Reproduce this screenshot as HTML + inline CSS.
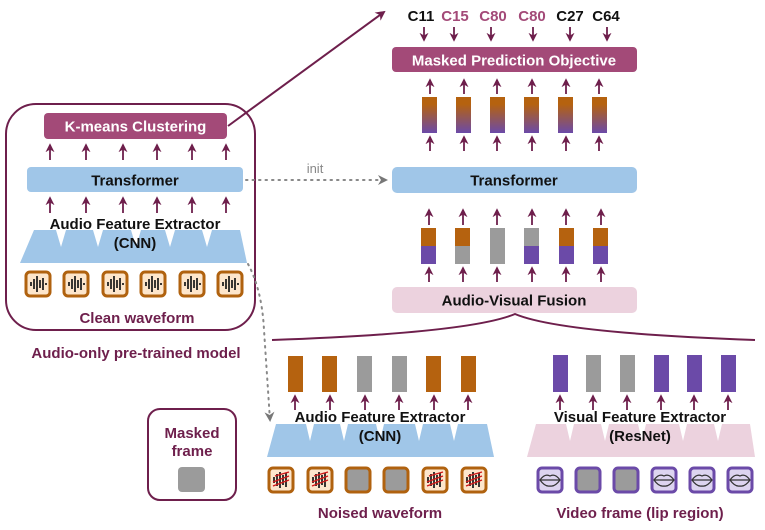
<!DOCTYPE html>
<html><head><meta charset="utf-8"><style>
body{margin:0;background:#fff}
svg{display:block;font-family:"Liberation Sans","DejaVu Sans",sans-serif;font-weight:bold}
</style></head><body>
<svg width="765" height="530" viewBox="0 0 765 530" xmlns="http://www.w3.org/2000/svg">
<defs>
<marker id="ah" viewBox="0 0 10 10" refX="8" refY="5" markerWidth="5" markerHeight="5" orient="auto"><path d="M0,0 L10,5 L0,10 L3,5z" fill="#6e1f4c"/></marker>
<marker id="ag" viewBox="0 0 10 10" refX="8" refY="5" markerWidth="5" markerHeight="5" orient="auto"><path d="M0,0 L10,5 L0,10 L3,5z" fill="#777"/></marker>
<linearGradient id="gr" x1="0" y1="0" x2="0" y2="1"><stop offset="0.2" stop-color="#b5620f"/><stop offset="1" stop-color="#6b4aa8"/></linearGradient>
<g id="wav"><rect x="-12" y="-12" width="24" height="24" rx="4" fill="#fde6cc" stroke="#b0620f" stroke-width="3"/><path d="M-7,-2v4M-4,-5v10M-1,-8v16M2,-4v8M5,-6v12M8,-1v2" stroke="#222" stroke-width="1.8"/></g>
<g id="nwav"><rect x="-12" y="-12" width="24" height="24" rx="4" fill="#fde6cc" stroke="#b0620f" stroke-width="3"/><path d="M-7,-3v6M-4,-6v12M-1,-8v16M2,-5v10M5,-7v14" stroke="#222" stroke-width="1.8"/><path d="M-8,2L8,-4M-8,6L8,0M-6,-4L8,-8" stroke="#d01818" stroke-width="1.4"/></g>
<g id="gwav"><rect x="-12" y="-12" width="24" height="24" rx="4" fill="#9b9b9b" stroke="#b0620f" stroke-width="3"/></g>
<g id="lip"><rect x="-12" y="-12" width="24" height="24" rx="4" fill="#ddd4f0" stroke="#6b4aa8" stroke-width="3"/><path d="M-10,0 Q-5,-7 0,-4 Q5,-7 10,0 Q5,7 0,6 Q-5,7 -10,0z M-10,0 H10" fill="none" stroke="#333" stroke-width="1.2"/></g>
<g id="glip"><rect x="-12" y="-12" width="24" height="24" rx="4" fill="#9b9b9b" stroke="#6b4aa8" stroke-width="3"/></g>
</defs>

<!-- Left box -->
<rect x="6" y="104" width="249" height="226" rx="30" fill="none" stroke="#6e1f4c" stroke-width="2"/>
<rect x="44" y="113" width="183" height="26" rx="4" fill="#a34a78"/>
<text x="135.5" y="131.5" font-size="15" fill="#fff" text-anchor="middle">K-means Clustering</text>
<g stroke="#6e1f4c" stroke-width="1.8" marker-end="url(#ah)">
<line x1="50" y1="160" x2="50" y2="145"/><line x1="86" y1="160" x2="86" y2="145"/><line x1="123" y1="160" x2="123" y2="145"/><line x1="157" y1="160" x2="157" y2="145"/><line x1="192" y1="160" x2="192" y2="145"/><line x1="226" y1="160" x2="226" y2="145"/>
<line x1="50" y1="213" x2="50" y2="198"/><line x1="86" y1="213" x2="86" y2="198"/><line x1="123" y1="213" x2="123" y2="198"/><line x1="157" y1="213" x2="157" y2="198"/><line x1="192" y1="213" x2="192" y2="198"/><line x1="226" y1="213" x2="226" y2="198"/>
</g>
<rect x="27" y="167" width="216" height="25" rx="4" fill="#a0c6e8"/>
<text x="135" y="185.5" font-size="15" fill="#111" text-anchor="middle">Transformer</text>
<path d="M34,230 L56,230 L61,247 L66,230 L93,230 L98,247 L103,230 L131,230 L136,247 L141,230 L165,230 L170,247 L175,230 L202,230 L207,247 L212,230 L240,230 L247,263 L20,263 Z" fill="#a0c6e8"/>
<text x="135" y="229" font-size="15" fill="#111" text-anchor="middle">Audio Feature Extractor</text>
<text x="135" y="248" font-size="15" fill="#111" text-anchor="middle">(CNN)</text>
<use href="#wav" x="38" y="284"/><use href="#wav" x="76" y="284"/><use href="#wav" x="115" y="284"/><use href="#wav" x="153" y="284"/><use href="#wav" x="192" y="284"/><use href="#wav" x="230" y="284"/>
<text x="137" y="323" font-size="15" fill="#6e1f4c" text-anchor="middle">Clean waveform</text>
<text x="136" y="358" font-size="15" fill="#6e1f4c" text-anchor="middle">Audio-only pre-trained model</text>

<!-- connectors -->
<line x1="228" y1="126" x2="384" y2="12" stroke="#6e1f4c" stroke-width="2" marker-end="url(#ah)"/>
<line x1="246" y1="180" x2="386" y2="180" stroke="#888" stroke-width="2" stroke-dasharray="1.5 5" stroke-linecap="round" marker-end="url(#ag)"/>
<text x="315" y="173" font-size="13" fill="#888" font-weight="normal" text-anchor="middle">init</text>
<path d="M248,264 Q262,290 264,330 L270,420" fill="none" stroke="#888" stroke-width="2" stroke-dasharray="1.5 5" stroke-linecap="round" marker-end="url(#ag)"/>

<!-- right top -->
<g font-size="15" text-anchor="middle">
<text x="421" y="21" fill="#111">C11</text><text x="455" y="21" fill="#a34a78">C15</text><text x="493" y="21" fill="#a34a78">C80</text><text x="532" y="21" fill="#a34a78">C80</text><text x="570" y="21" fill="#111">C27</text><text x="606" y="21" fill="#111">C64</text>
</g>
<g stroke="#6e1f4c" stroke-width="1.8" marker-end="url(#ah)">
<line x1="424" y1="27" x2="424" y2="40"/><line x1="454" y1="27" x2="454" y2="40"/><line x1="491" y1="27" x2="491" y2="40"/><line x1="533" y1="27" x2="533" y2="40"/><line x1="570" y1="27" x2="570" y2="40"/><line x1="607" y1="27" x2="607" y2="40"/>
</g>
<rect x="392" y="47" width="245" height="25" rx="4" fill="#a34a78"/>
<text x="514" y="65.5" font-size="15" fill="#fff" text-anchor="middle">Masked Prediction Objective</text>
<g stroke="#6e1f4c" stroke-width="1.8" marker-end="url(#ah)">
<line x1="430" y1="94" x2="430" y2="80"/><line x1="464" y1="94" x2="464" y2="80"/><line x1="497" y1="94" x2="497" y2="80"/><line x1="532" y1="94" x2="532" y2="80"/><line x1="566" y1="94" x2="566" y2="80"/><line x1="599" y1="94" x2="599" y2="80"/>
<line x1="430" y1="151" x2="430" y2="137"/><line x1="464" y1="151" x2="464" y2="137"/><line x1="497" y1="151" x2="497" y2="137"/><line x1="532" y1="151" x2="532" y2="137"/><line x1="566" y1="151" x2="566" y2="137"/><line x1="599" y1="151" x2="599" y2="137"/>
</g>
<g fill="url(#gr)">
<rect x="422" y="97" width="15" height="36"/><rect x="456" y="97" width="15" height="36"/><rect x="490" y="97" width="15" height="36"/><rect x="524" y="97" width="15" height="36"/><rect x="558" y="97" width="15" height="36"/><rect x="592" y="97" width="15" height="36"/>
</g>
<rect x="392" y="167" width="245" height="26" rx="5" fill="#a0c6e8"/>
<text x="514" y="185.5" font-size="15" fill="#111" text-anchor="middle">Transformer</text>
<g stroke="#6e1f4c" stroke-width="1.8" marker-end="url(#ah)">
<line x1="429" y1="225" x2="429" y2="210"/><line x1="463" y1="225" x2="463" y2="210"/><line x1="497" y1="225" x2="497" y2="210"/><line x1="532" y1="225" x2="532" y2="210"/><line x1="566" y1="225" x2="566" y2="210"/><line x1="601" y1="225" x2="601" y2="210"/>
<line x1="429" y1="282" x2="429" y2="268"/><line x1="463" y1="282" x2="463" y2="268"/><line x1="497" y1="282" x2="497" y2="268"/><line x1="532" y1="282" x2="532" y2="268"/><line x1="566" y1="282" x2="566" y2="268"/><line x1="601" y1="282" x2="601" y2="268"/>
</g>
<rect x="421" y="228" width="15" height="18" fill="#b5620f"/><rect x="421" y="246" width="15" height="18" fill="#6b4aa8"/>
<rect x="455" y="228" width="15" height="18" fill="#b5620f"/><rect x="455" y="246" width="15" height="18" fill="#9b9b9b"/>
<rect x="490" y="228" width="15" height="36" fill="#9b9b9b"/>
<rect x="524" y="228" width="15" height="18" fill="#9b9b9b"/><rect x="524" y="246" width="15" height="18" fill="#6b4aa8"/>
<rect x="559" y="228" width="15" height="18" fill="#b5620f"/><rect x="559" y="246" width="15" height="18" fill="#6b4aa8"/>
<rect x="593" y="228" width="15" height="18" fill="#b5620f"/><rect x="593" y="246" width="15" height="18" fill="#6b4aa8"/>
<rect x="392" y="287" width="245" height="26" rx="5" fill="#ecd2de"/>
<text x="514" y="305.5" font-size="15" fill="#111" text-anchor="middle">Audio-Visual Fusion</text>
<path d="M272,340 Q470,333 515,314 Q560,333 755,340" fill="none" stroke="#6e1f4c" stroke-width="2"/>

<!-- bottom audio -->
<rect x="288" y="356" width="15" height="36" fill="#b5620f"/><rect x="322" y="356" width="15" height="36" fill="#b5620f"/><rect x="357" y="356" width="15" height="36" fill="#9b9b9b"/><rect x="392" y="356" width="15" height="36" fill="#9b9b9b"/><rect x="426" y="356" width="15" height="36" fill="#b5620f"/><rect x="461" y="356" width="15" height="36" fill="#b5620f"/>
<rect x="553" y="355" width="15" height="37" fill="#6b4aa8"/><rect x="586" y="355" width="15" height="37" fill="#9b9b9b"/><rect x="620" y="355" width="15" height="37" fill="#9b9b9b"/><rect x="654" y="355" width="15" height="37" fill="#6b4aa8"/><rect x="687" y="355" width="15" height="37" fill="#6b4aa8"/><rect x="721" y="355" width="15" height="37" fill="#6b4aa8"/>
<g stroke="#6e1f4c" stroke-width="1.8" marker-end="url(#ah)">
<line x1="295" y1="410" x2="295" y2="396"/><line x1="330" y1="410" x2="330" y2="396"/><line x1="365" y1="410" x2="365" y2="396"/><line x1="399" y1="410" x2="399" y2="396"/><line x1="434" y1="410" x2="434" y2="396"/><line x1="468" y1="410" x2="468" y2="396"/>
<line x1="560" y1="410" x2="560" y2="396"/><line x1="593" y1="410" x2="593" y2="396"/><line x1="627" y1="410" x2="627" y2="396"/><line x1="661" y1="410" x2="661" y2="396"/><line x1="694" y1="410" x2="694" y2="396"/><line x1="728" y1="410" x2="728" y2="396"/>
</g>
<path d="M276,424 L306,424 L310,441 L314,424 L340,424 L344,441 L348,424 L376,424 L380,441 L384,424 L415,424 L419,441 L423,424 L450,424 L454,441 L458,424 L487,424 L494,457 L267,457 Z" fill="#a0c6e8"/>
<path d="M536,424 L566,424 L570,441 L574,424 L601,424 L605,441 L609,424 L638,424 L642,441 L646,424 L679,424 L683,441 L687,424 L714,424 L718,441 L722,424 L750,424 L755,457 L527,457 Z" fill="#ecd2de"/>
<text x="380" y="422" font-size="15" fill="#111" text-anchor="middle">Audio Feature Extractor</text>
<text x="380" y="441" font-size="15" fill="#111" text-anchor="middle">(CNN)</text>
<text x="640" y="422" font-size="15" fill="#111" text-anchor="middle">Visual Feature Extractor</text>
<text x="640" y="441" font-size="15" fill="#111" text-anchor="middle">(ResNet)</text>
<use href="#nwav" x="281" y="480"/><use href="#nwav" x="320" y="480"/><use href="#gwav" x="358" y="480"/><use href="#gwav" x="396" y="480"/><use href="#nwav" x="435" y="480"/><use href="#nwav" x="474" y="480"/>
<use href="#lip" x="550" y="480"/><use href="#glip" x="588" y="480"/><use href="#glip" x="626" y="480"/><use href="#lip" x="664" y="480"/><use href="#lip" x="702" y="480"/><use href="#lip" x="740" y="480"/>
<text x="380" y="518" font-size="15" fill="#6e1f4c" text-anchor="middle">Noised waveform</text>
<text x="640" y="518" font-size="15" fill="#6e1f4c" text-anchor="middle">Video frame (lip region)</text>

<!-- masked frame legend -->
<rect x="148" y="409" width="88" height="91" rx="12" fill="none" stroke="#6e1f4c" stroke-width="2"/>
<text x="192" y="438" font-size="15" fill="#6e1f4c" text-anchor="middle">Masked</text>
<text x="192" y="456" font-size="15" fill="#6e1f4c" text-anchor="middle">frame</text>
<rect x="178" y="467" width="27" height="25" rx="4" fill="#9b9b9b"/>
</svg>
</body></html>
